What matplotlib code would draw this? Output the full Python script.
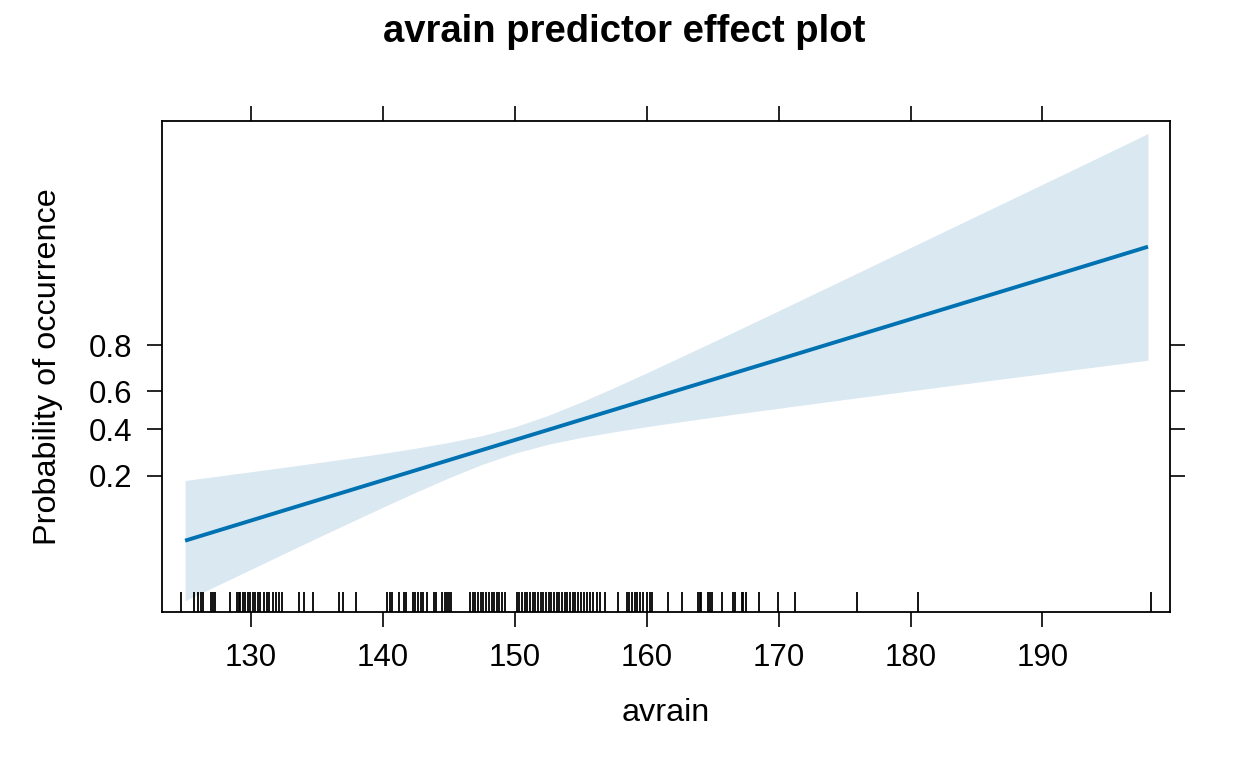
import numpy as np
import matplotlib
matplotlib.use("Agg")
import matplotlib.pyplot as plt
from matplotlib.ticker import FixedLocator, NullLocator, FixedFormatter

# ---- data ----
avrain = [125, 130, 132.5, 135, 137.5, 140, 142.5, 145, 147.5, 150, 152.5, 155,
          157.5, 160, 162.5, 165, 167.5, 170, 175, 180, 185, 190, 195, 198]
fit = [0.0592, 0.0880, 0.1068, 0.1289, 0.1548, 0.1848, 0.2192, 0.2581, 0.3009,
       0.3477, 0.3975, 0.4497, 0.5028, 0.5560, 0.6080, 0.6574, 0.7039, 0.7463,
       0.8186, 0.8737, 0.9138, 0.9420, 0.9614, 0.9699]
lower = [0.0173, 0.0331, 0.0457, 0.0625, 0.0847, 0.1135, 0.1497, 0.1929, 0.2407,
         0.2872, 0.3270, 0.3596, 0.3879, 0.4144, 0.4393, 0.4636, 0.4877, 0.5110,
         0.5575, 0.6020, 0.6447, 0.6848, 0.7225, 0.7436]
upper = [0.1841, 0.2136, 0.2299, 0.2473, 0.2662, 0.2864, 0.3094, 0.3360, 0.3689,
         0.4136, 0.4725, 0.5431, 0.6173, 0.6891, 0.7543, 0.8100, 0.8558, 0.8923,
         0.9418, 0.9694, 0.9841, 0.9918, 0.9958, 0.9972]

rug_avrain = [124.67, 125.68, 126.0, 126.19, 126.36, 126.94, 127.10, 127.29, 128.41,
              128.96, 129.07, 129.19, 129.37, 129.57, 129.75, 129.95, 130.13, 130.33,
              130.51, 130.71, 131.01, 131.24, 131.39, 131.69, 131.90, 132.15, 132.35,
              133.66, 134.04, 134.68, 136.69, 136.95, 137.96, 140.29, 140.54, 140.69,
              141.24, 141.60, 141.75, 142.26, 142.46, 142.66, 142.87, 143.06, 143.37,
              143.87, 144.03, 144.48, 144.69, 144.88, 145.03, 145.19, 146.60, 146.81,
              147.01, 147.21, 147.41, 147.61, 147.82, 148.02, 148.25, 148.45, 148.63,
              148.82, 149.03, 149.23, 150.14, 150.34, 150.55, 150.75, 150.95, 151.15,
              151.36, 151.55, 151.76, 151.96, 152.16, 152.37, 152.57, 152.77, 152.97,
              153.18, 153.37, 153.58, 153.78, 153.98, 154.18, 154.39, 154.59, 154.79,
              155.00, 155.25, 155.50, 155.70, 155.95, 156.21, 156.46, 156.84, 157.85,
              158.48, 158.68, 158.89, 159.09, 159.29, 159.49, 159.74, 160.00, 160.25,
              160.38, 161.58, 162.65, 163.89, 164.04, 164.15, 164.65, 164.80, 164.95,
              165.67, 166.54, 166.66, 167.20, 167.32, 167.53, 168.51, 169.98, 171.21,
              175.97, 180.55, 198.21]

x_ticks = [130, 140, 150, 160, 170, 180, 190]
y_ticks = [0.2, 0.4, 0.6, 0.8]
y_tick_labels = ["0.2", "0.4", "0.6", "0.8"]

title = "avrain predictor effect plot"
xlabel = "avrain"
ylabel = "Probability of occurrence"

# ---- styling ----
plt.rcParams['font.family'] = ['Liberation Sans', 'DejaVu Sans']
line_color = "#0072B2"
band_color = "#DAE8F2"

fig = plt.figure(figsize=(12.48, 7.68), dpi=100)
ax = fig.add_axes([0.1296, 0.2031, 0.8079, 0.6387])

ax.set_yscale('logit')
ax.fill_between(avrain, lower, upper, color=band_color, linewidth=0, zorder=1)
ax.plot(avrain, fit, color=line_color, linewidth=2.8, zorder=3, solid_capstyle='butt')

ax.vlines(rug_avrain, 0, 0.04, transform=ax.get_xaxis_transform(),
          color='black', linewidth=1.3, zorder=4)

def expit(v):
    return 1.0 / (1.0 + np.exp(-v))

ax.set_xlim(123.23, 199.67)
ax.set_ylim(expit(-4.28), expit(6.13))

ax.xaxis.set_major_locator(FixedLocator(x_ticks))
ax.xaxis.set_minor_locator(NullLocator())
ax.yaxis.set_major_locator(FixedLocator(y_ticks))
ax.yaxis.set_major_formatter(FixedFormatter(y_tick_labels))
ax.yaxis.set_minor_locator(NullLocator())

ax.tick_params(axis='x', which='major', direction='out', length=11, width=1.2,
               top=True, labeltop=False, bottom=True, labelbottom=True,
               labelsize=22.5, pad=11)
ax.tick_params(axis='y', which='major', direction='out', length=11, width=1.2,
               left=True, right=True, labelright=False, labelsize=22.5, pad=10.5)

for s in ax.spines.values():
    s.set_linewidth(1.3)

fig.text(0.5, 1 - 32 / 768, title, fontsize=27.5, fontweight='bold',
         ha='center', va='center')
ax.set_xlabel(xlabel, fontsize=23.3, labelpad=18)
ax.set_ylabel(ylabel, fontsize=23.3, labelpad=18)

fig.savefig("out.png", dpi=100)
